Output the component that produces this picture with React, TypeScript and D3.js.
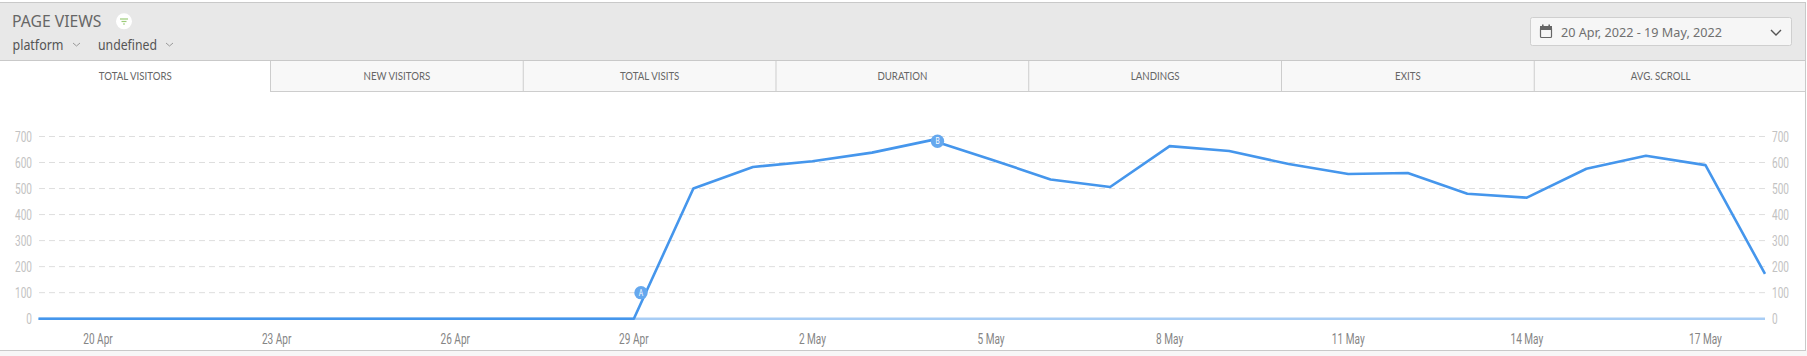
import React from "react";
import * as d3 from "d3";

const days = ["19 Apr","20 Apr","21 Apr","22 Apr","23 Apr","24 Apr","25 Apr","26 Apr","27 Apr","28 Apr","29 Apr","30 Apr","1 May","2 May","3 May","4 May","5 May","6 May","7 May","8 May","9 May","10 May","11 May","12 May","13 May","14 May","15 May","16 May","17 May","18 May"];
const visitors = [0,0,0,0,0,0,0,0,0,0,0,500,583,605,638,686,612,535,506,663,644,594,556,560,480,465,576,626,590,172];
const baseline = days.map(() => 0);
const yTicks = [0,100,200,300,400,500,600,700];
const xTickLabels = ["20 Apr","23 Apr","26 Apr","29 Apr","2 May","5 May","8 May","11 May","14 May","17 May"];
const tabs = ["TOTAL VISITORS","NEW VISITORS","TOTAL VISITS","DURATION","LANDINGS","EXITS","AVG. SCROLL"];
const markers = [{ label: "A", day: 10.12, value: 100 }, { label: "B", day: 15.1, value: 682 }];

const W = 1807, H = 356;
const x = d3.scaleLinear().domain([0, days.length - 1]).range([38.5, 1765]);
const y = d3.scaleLinear().domain([0, 700]).range([318.7, 136.5]);
const line = d3.line<number>().x((_, i) => x(i)).y((d) => y(d));
const tabX = d3.scaleLinear().domain([1, tabs.length]).range([270.5, 1787]);
const UI = "'Noto Sans', sans-serif";
const TAB = "Lato, sans-serif";
const AX = "Roboto, sans-serif";
const NARROW = 0.72;

function Narrow({ px, py, anchor, fill, size, children }: { px: number; py: number; anchor: string; fill: string; size: number; children: React.ReactNode }) {
  return (
    <text transform={`translate(${px},${py}) scale(${NARROW},1)`} textAnchor={anchor} fontFamily={AX} fontSize={size} fill={fill}>
      {children}
    </text>
  );
}

export default function App() {
  return (
    <svg width={W} height={H} style={{ position: "absolute", left: 0, top: 0, display: "block" }}>
      <rect width={W} height={H} fill="#fff" />
      <rect y={350} width={W} height={6} fill="#f7f7f7" />
      <rect y={3} width={W - 2} height={58} fill="#e8e8e8" />
      <line x1={0} x2={W - 1} y1={2.5} y2={2.5} stroke="#c9c9c9" />
      <line x1={0} x2={W - 1} y1={60.5} y2={60.5} stroke="#c9c9c9" />
      <line x1={0} x2={W - 1} y1={350.5} y2={350.5} stroke="#c9c9c9" />
      <line x1={1805.5} x2={1805.5} y1={2} y2={351} stroke="#c9c9c9" />

      <text x={12} y={27} fontFamily={UI} fontSize={17} fill="#666" textLength={89.5} lengthAdjust="spacingAndGlyphs">PAGE VIEWS</text>
      <circle cx={124} cy={21.3} r={8} fill="#fff" />
      <g stroke="#9ccb78" strokeWidth={1.2}>
        <line x1={120} x2={128} y1={19} y2={19} />
        <line x1={121.5} x2={126.5} y1={21.5} y2={21.5} />
        <line x1={123} x2={125} y1={24} y2={24} />
      </g>
      <text x={12.5} y={50} fontFamily={UI} fontSize={14.5} fill="#555" textLength={51} lengthAdjust="spacingAndGlyphs">platform</text>
      <path d="M73,43 L76.5,46 L80,43" fill="none" stroke="#999" />
      <text x={98} y={50} fontFamily={UI} fontSize={14.5} fill="#555" textLength={59} lengthAdjust="spacingAndGlyphs">undefined</text>
      <path d="M166,43 L169.5,46 L173,43" fill="none" stroke="#999" />

      <rect x={1530.5} y={17.5} width={261} height={28} rx={2} fill="#f6f6f6" stroke="#cfcfcf" />
      <rect x={1540.5} y={27.5} width={11} height={10} rx={1} fill="none" stroke="#666" strokeWidth={1.2} />
      <rect x={1540} y={26} width={12} height={4} fill="#666" />
      <rect x={1542} y={24.5} width={1.6} height={2.5} fill="#666" />
      <rect x={1548.4} y={24.5} width={1.6} height={2.5} fill="#666" />
      <text x={1561} y={37} fontFamily={UI} fontSize={13} fill="#707070" textLength={161} lengthAdjust="spacingAndGlyphs">20 Apr, 2022 - 19 May, 2022</text>
      <path d="M1771,30 L1776,35 L1781,30" fill="none" stroke="#555" strokeWidth={1.4} />

      <rect x={270.5} y={61} width={W - 272.5} height={30} fill="#f8f8f8" />
      <line x1={270.5} x2={1805} y1={91.5} y2={91.5} stroke="#cdcdcd" />
      {tabs.map((t, i) => {
        const left = i === 0 ? 0 : tabX(i);
        const right = tabX(i + 1);
        return (
          <g key={t}>
            {i < tabs.length - 1 && <line x1={right} x2={right} y1={61} y2={92} stroke="#cdcdcd" />}
            <text transform={`translate(${(left + right) / 2},80) scale(0.88,1)`} textAnchor="middle" fontFamily={TAB} fontSize={11} fill="#666">{t}</text>
          </g>
        );
      })}

      {yTicks.slice(1).map((t) => (
        <line key={t} x1={39} x2={1765} y1={y(t)} y2={y(t)} stroke="#dedede" strokeDasharray="6 4" />
      ))}
      {yTicks.map((t) => (
        <g key={t}>
          <Narrow px={32} py={y(t) + 5} anchor="end" fill="#c2c2c2" size={14}>{t}</Narrow>
          <Narrow px={1772} py={y(t) + 5} anchor="start" fill="#c2c2c2" size={14}>{t}</Narrow>
        </g>
      ))}
      {xTickLabels.map((l) => (
        <Narrow key={l} px={x(days.indexOf(l))} py={344} anchor="middle" fill="#858585" size={14}>{l}</Narrow>
      ))}

      <path d={line(baseline) ?? ""} fill="none" stroke="#a8cdf5" strokeWidth={2.5} />
      <path d={line(visitors) ?? ""} fill="none" stroke="#4596ec" strokeWidth={2.6} strokeLinejoin="round" />
      {markers.map((m) => (
        <g key={m.label}>
          <circle cx={x(m.day)} cy={y(m.value)} r={6.7} fill="#65a8ee" />
          <text transform={`translate(${x(m.day)},${y(m.value) + 3.2}) scale(0.75,1)`} textAnchor="middle" fontFamily={AX} fontSize={9} fill="#fff">{m.label}</text>
        </g>
      ))}
    </svg>
  );
}
